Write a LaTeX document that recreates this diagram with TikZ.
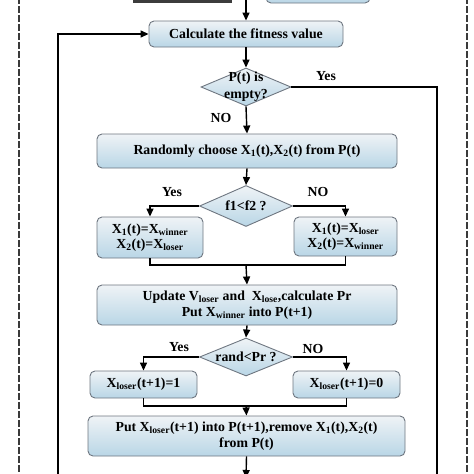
\documentclass[tikz,border=0pt]{standalone}
\usepackage{fontspec}
\setmainfont{Liberation Serif}
\usetikzlibrary{shapes.geometric,arrows.meta,calc}
\definecolor{boxtop}{HTML}{EFF3F6}
\definecolor{boxbot}{HTML}{B9D6E6}
\definecolor{boxborder}{HTML}{6E7680}
\definecolor{boxdark}{HTML}{3C3C3C}
\definecolor{dashcol}{HTML}{3A3A3A}
\begin{document}
\begin{tikzpicture}[x=1pt,y=-1pt,
  txt/.style={font=\fontsize{13.8}{15.5}\selectfont\bfseries},
  box/.style={draw=boxborder,line width=0.9pt,rounded corners=5pt,top color=boxtop,bottom color=boxbot,inner sep=1pt,align=center,txt},
  dia/.style={diamond,draw=boxborder,line width=0.9pt,top color=boxtop,bottom color=boxbot,inner sep=0pt},
  conn/.style={line width=1.4pt,-{Triangle[length=8pt,width=7pt]}},
  wire/.style={line width=1.4pt},
  lbl/.style={txt,inner sep=0pt},
  border/.style={line width=2pt,dash pattern=on 7pt off 2pt,dashcol}]
\useasboundingbox (0,0) rectangle (474,474);
% outer dashed frame
\draw[border] (19,-3) -- (19,478);
\draw[border] (467,-3) -- (467,478);
% boxes cut off at the top
\node[fill=boxdark,draw=boxdark,minimum width=98pt,minimum height=24pt,inner sep=0pt] (top1) at (182,-10) {};
\node[box,minimum width=104pt,minimum height=25pt] (top2) at (318,-9.5) {};
% main nodes
\node[box,minimum width=194pt,minimum height=26pt] (calc) at (246,34) {Calculate the fitness value};
\node[dia,minimum width=90pt,minimum height=38pt,label={[align=center,inner sep=0pt,font=\fontsize{13.8}{17}\selectfont\bfseries]center:P(t) is\\empty?}] (d1) at (246,87) {};
\node[box,minimum width=300pt,minimum height=34pt] (rand) at (247,151) {Randomly choose X\textsubscript{1}(t),X\textsubscript{2}(t) from P(t)};
\node[dia,minimum width=93pt,minimum height=41pt,label={[txt,inner sep=0pt]center:f1<f2 ?}] (d2) at (246,206) {};
\node[box,minimum width=106pt,minimum height=41pt] (l1) at (150,237.5) {X\textsubscript{1}(t)=X\textsubscript{winner}\\X\textsubscript{2}(t)=X\textsubscript{loser}};
\node[box,minimum width=103pt,minimum height=39pt] (r1) at (345.5,236.5) {X\textsubscript{1}(t)=X\textsubscript{loser}\\X\textsubscript{2}(t)=X\textsubscript{winner}};
\node[box,minimum width=300pt,minimum height=40pt] (upd) at (247,305) {Update V\textsubscript{loser} and\ \ X\textsubscript{lose},calculate Pr\\Put X\textsubscript{winner} into P(t+1)};
\node[dia,minimum width=93pt,minimum height=38pt,label={[txt,inner sep=0pt]center:rand<Pr ?}] (d3) at (246,357) {};
\node[box,minimum width=107pt,minimum height=27pt] (l2) at (143.5,384.5) {X\textsubscript{loser}(t+1)=1};
\node[box,minimum width=107pt,minimum height=27pt] (r2) at (346.5,384.5) {X\textsubscript{loser}(t+1)=0};
\node[box,minimum width=317pt,minimum height=40pt] (put) at (246.5,436) {Put X\textsubscript{loser}(t+1) into P(t+1),remove X\textsubscript{1}(t),X\textsubscript{2}(t)\\from P(t)};
% branch labels
\node[lbl] (yes1) at (326,76) {Yes};
\node[lbl] (no1) at (221,118) {NO};
\node[lbl] (yes2) at (172,192) {Yes};
\node[lbl] (no2) at (318,192) {NO};
\node[lbl] (yes3) at (179,347) {Yes};
\node[lbl] (no3) at (313,349) {NO};
% helper coordinates
\coordinate (topin) at (246,-2);
\coordinate (loopL) at (58,478);
\coordinate (loopR) at (437,478);
\coordinate (outB) at (246,478);
\coordinate (m1) at (246,265);
\coordinate (m2) at (246,406);
% connectors
\draw[conn] (topin) -- (calc.north);
\draw[conn] (calc.south) -- (d1.north);
\draw[conn] (d1.south) -- (rand.north);
\draw[wire] (d1.east) -| (loopR);
\draw[conn] (loopL) |- (calc.west);
\draw[conn] (rand.south) -- (d2.north);
\draw[conn] (d2.west) -| (l1.north);
\draw[conn] (d2.east) -| (r1.north);
\draw[wire] (l1.south) |- (m1) -| (r1.south);
\draw[conn] (m1) -- (upd.north);
\draw[conn] (upd.south) -- (d3.north);
\draw[conn] (d3.west) -| (l2.north);
\draw[conn] (d3.east) -| (r2.north);
\draw[wire] (l2.south) |- (m2) -| (r2.south);
\draw[conn] (m2) -- (put.north);
\draw[conn] (put.south) -- (outB);
\end{tikzpicture}
\end{document}
